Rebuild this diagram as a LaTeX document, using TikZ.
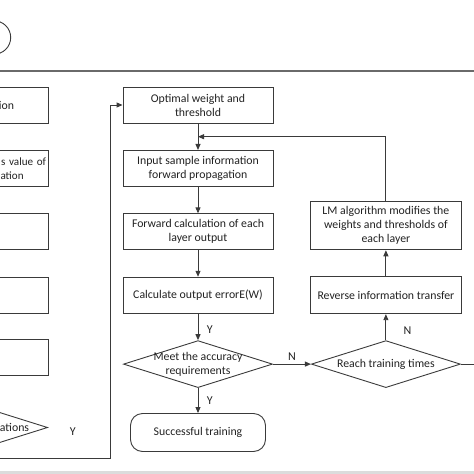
\documentclass[tikz,border=0pt]{standalone}
\usepackage{fontspec}
\setmainfont{Carlito}
\usepackage{tikz}
\usetikzlibrary{shapes.geometric,arrows.meta,positioning,calc}
\definecolor{ink}{HTML}{3A3A3A}
\definecolor{txt}{HTML}{222222}
\definecolor{rule}{HTML}{6A6A6A}
\definecolor{band}{HTML}{DCDCDC}

\begin{document}
\begin{tikzpicture}[
  x=1pt, y=-1pt,
  node distance=26.5pt and 38pt,
  every node/.style={font=\fontsize{11.8}{14}\selectfont, text=txt},
  box/.style={draw=ink, line width=0.9pt, fill=white,
              minimum width=150pt, minimum height=36pt, align=center},
  lbox/.style={box, text width=138pt, align=right},
  decide/.style={diamond, draw=ink, line width=0.9pt, aspect=3,
              minimum width=149pt, minimum height=47pt,
              inner xsep=0pt, inner ysep=-10pt, align=center},
  term/.style={draw=ink, line width=0.9pt, rounded corners=12pt,
              minimum width=135pt, minimum height=38pt},
  arr/.style={-{Triangle[length=6pt,width=5pt]}, line width=0.9pt, draw=ink},
  link/.style={line width=0.9pt, draw=ink},
  lbl/.style={font=\fontsize{12}{14}\selectfont}
]
\useasboundingbox (0,0) rectangle (474,474);

% page frame
\fill[band] (0,470.5) rectangle (474,474);
\draw[rule, line width=1.2pt] (0,71) -- (474,71);
\node[circle, draw=ink, line width=0.9pt, minimum size=33.4pt] (start) at (-6,37.5) {};

% main column
\node[box] (opt) at (198,105) {Optimal weight and\\threshold};
\node[box, below=of opt]   (input) {Input sample information\\forward propagation};
\node[box, below=of input] (fwd)   {Forward calculation of each\\layer output};
\node[box, below=of fwd]   (err)   {Calculate output errorE(W)};
\node[decide, below=of err] (acc)  {Meet the accuracy\\requirements};
\node[term, below=25pt of acc] (succ) {Successful training};

% left column (cut off)
\node[lbox, text width=82pt, left=74pt of opt] (prep) {ion};
\node[lbox, text width=146pt, inner xsep=1pt, font=\fontsize{11.1}{14}\selectfont,
      left=74pt of input] (init) {s value of\\ation\hspace*{22.5pt}};
\node[lbox, left=74pt of fwd] (lb3) {};
\node[lbox, left=74pt of err] (lb4) {};
\node[lbox, below=25.5pt of lb4] (lb5) {};
\node[decide, text width=112pt, align=right, below=27.5pt of lb5] (iter) {ations};

% right column
\node[decide, right=of acc] (reach) {Reach training times};
\node[box, above=26pt of reach, minimum width=151pt, minimum height=37pt] (rev) {Reverse information transfer};
\node[box, above=26pt of rev, minimum width=151pt, minimum height=48pt] (lm) {LM algorithm modifies the\\weights and thresholds of\\each layer};

\coordinate (join) at ($(opt.south)!0.5!(input.north)$);
\coordinate[right=30pt of reach.east] (reachout);
\coordinate (lloop) at (-10,458);
\coordinate (lcorner) at (110,458);

\draw[arr] (opt) -- (input);
\draw[arr] (input) -- (fwd);
\draw[arr] (fwd) -- (err);
\draw[arr] (err) -- node[lbl, pos=0.6, right=5pt] {Y} (acc);
\draw[arr] (acc) -- node[lbl, right=5pt] {Y} (succ);
\draw[arr] (acc) -- node[lbl, above] {N} (reach);
\draw[link] (reach) -- (reachout);
\draw[arr] (reach) -- node[lbl, pos=0.35, right=14pt] {N} (rev);
\draw[arr] (rev) -- (lm);
\draw[arr] (lm.north) |- (join);
\draw[arr] (lloop) -- node[lbl, pos=0.69, above=19pt] {Y} (lcorner) |- (opt);
\end{tikzpicture}
\end{document}
